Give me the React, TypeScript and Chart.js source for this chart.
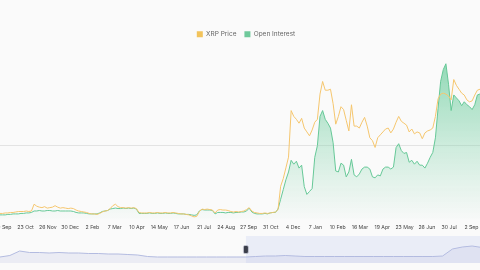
import React, { useEffect, useRef } from 'react';
import { Chart, registerables } from 'chart.js';

Chart.register(...registerables);

// Daily series sampled every 4 days starting 14 Sep 2023 (day 0)
const STEP_DAYS = 4;
const X_MAX_DAY = 732;

const xrpPrice = [
  0.60, 0.60, 0.61, 0.61, 0.62, 0.62, 0.63, 0.64, 0.64, 0.64,
  0.65, 0.64, 0.65, 0.79, 0.75, 0.73, 0.72, 0.74, 0.71, 0.72,
  0.73, 0.76, 0.73, 0.71, 0.72, 0.71, 0.70, 0.71, 0.70, 0.67,
  0.65, 0.64, 0.63, 0.62, 0.60, 0.59, 0.59, 0.58, 0.60, 0.63,
  0.65, 0.66, 0.70, 0.76, 0.79, 0.74, 0.72, 0.72, 0.71, 0.72,
  0.71, 0.72, 0.70, 0.62, 0.61, 0.61, 0.61, 0.62, 0.61, 0.61,
  0.62, 0.61, 0.61, 0.62, 0.61, 0.61, 0.62, 0.61, 0.60, 0.59,
  0.59, 0.58, 0.57, 0.55, 0.53, 0.54, 0.64, 0.69, 0.68, 0.69,
  0.68, 0.67, 0.61, 0.67, 0.68, 0.67, 0.67, 0.66, 0.64, 0.63,
  0.64, 0.63, 0.64, 0.65, 0.68, 0.72, 0.65, 0.62, 0.61, 0.60,
  0.60, 0.61, 0.60, 0.61, 0.62, 0.63, 0.68, 1.16, 1.32, 1.54,
  1.76, 2.72, 2.60, 2.54, 2.46, 2.56, 2.36, 2.28, 2.20, 2.32,
  2.48, 2.54, 3.06, 3.32, 3.14, 3.14, 3.16, 2.86, 2.44, 2.60,
  2.80, 2.74, 2.52, 2.30, 2.84, 2.40, 2.40, 2.36, 2.48, 2.58,
  2.40, 2.16, 2.10, 1.96, 2.16, 2.22, 2.28, 2.34, 2.36, 2.26,
  2.34, 2.48, 2.60, 2.50, 2.46, 2.42, 2.28, 2.34, 2.24, 2.28,
  2.26, 2.14, 2.26, 2.30, 2.32, 2.36, 2.60, 2.96, 3.06, 3.08,
  3.06, 3.02, 2.94, 3.36, 3.24, 3.16, 3.08, 3.04, 2.94, 2.90,
  2.92, 3.04, 3.14, 3.16,
];

const openInterest = [
  0.30, 0.30, 0.30, 0.33, 0.33, 0.36, 0.36, 0.36, 0.39, 0.39,
  0.42, 0.42, 0.45, 0.54, 0.54, 0.57, 0.54, 0.54, 0.57, 0.57,
  0.54, 0.54, 0.57, 0.54, 0.54, 0.54, 0.54, 0.54, 0.51, 0.45,
  0.42, 0.42, 0.42, 0.39, 0.36, 0.36, 0.36, 0.36, 0.42, 0.51,
  0.54, 0.57, 0.66, 0.69, 0.72, 0.69, 0.69, 0.72, 0.69, 0.72,
  0.69, 0.72, 0.66, 0.39, 0.39, 0.39, 0.39, 0.42, 0.39, 0.39,
  0.42, 0.39, 0.39, 0.42, 0.39, 0.39, 0.42, 0.39, 0.36, 0.36,
  0.36, 0.33, 0.33, 0.30, 0.27, 0.30, 0.54, 0.63, 0.60, 0.60,
  0.60, 0.57, 0.36, 0.45, 0.45, 0.45, 0.42, 0.45, 0.45, 0.42,
  0.45, 0.45, 0.48, 0.48, 0.54, 0.72, 0.48, 0.39, 0.36, 0.36,
  0.36, 0.39, 0.36, 0.42, 0.45, 0.45, 0.66, 1.26, 1.86, 2.46,
  2.94, 3.66, 3.42, 3.60, 3.18, 3.36, 2.04, 1.56, 1.74, 1.92,
  3.84, 4.56, 6.36, 6.72, 6.18, 5.94, 5.64, 4.74, 3.00, 2.94,
  3.48, 3.36, 2.64, 2.94, 3.72, 2.76, 2.64, 2.82, 3.12, 3.24,
  3.24, 3.12, 2.64, 2.58, 2.76, 2.70, 3.12, 3.24, 3.24, 3.12,
  3.24, 4.44, 4.68, 4.26, 4.08, 4.14, 3.54, 3.66, 3.42, 3.60,
  3.36, 3.36, 3.18, 3.48, 3.84, 4.14, 5.04, 6.84, 8.52, 9.24,
  9.60, 8.34, 6.72, 7.68, 7.50, 7.32, 7.02, 7.26, 7.08, 6.96,
  6.78, 7.08, 7.68, 7.74,
];

const tickLabels = [
  '19 Sep', '23 Oct', '26 Nov', '30 Dec', '2 Feb', '7 Mar', '10 Apr', '14 May',
  '17 Jun', '21 Jul', '24 Aug', '27 Sep', '31 Oct', '4 Dec', '7 Jan', '10 Feb',
  '16 Mar', '19 Apr', '23 May', '26 Jun', '30 Jul', '2 Sep',
];
const FIRST_TICK_DAY = 5;
const TICK_STEP_DAYS = 34;

const gridPriceLevel = 2.0;

// Overview (data-zoom) series, sampled every 15 days
const SLIDER_STEP_DAYS = 15;
const sliderValues = [
  6, 7.5, 12, 10.5, 10.5, 10, 10.5, 10, 10, 9.5,
  9.5, 9, 9, 8.5, 8, 6.5, 6, 6, 6, 6,
  6, 6, 6, 6, 6, 6, 6.5, 7, 7, 7.5,
  7, 6.5, 6.5, 6.5, 6.5, 6.5, 6.5, 6.5, 6.5, 6.5,
  6.5, 6.5, 6.5, 6.5, 6.5, 7, 14, 16, 17, 15.5,
];
const SLIDER_START_DAY = 375;

const FONT = 'Inter, "Noto Sans", sans-serif';
const PRICE_COLOR = '#f5c66e';
const OI_COLOR = '#66c897';
const LEGEND_SHIFT = 6;

function MainChart() {
  const ref = useRef<HTMLCanvasElement | null>(null);
  useEffect(() => {
    if (!ref.current) return;
    const tickDays = tickLabels.map((_, k) => FIRST_TICK_DAY + k * TICK_STEP_DAYS);
    const legendShift = {
      id: 'legendShift',
      afterLayout(chart: any) {
        if (chart.legend) {
          chart.legend.left += LEGEND_SHIFT;
          chart.legend.right += LEGEND_SHIFT;
        }
      },
    };
    const chart = new Chart(ref.current, {
      type: 'line',
      data: {
        datasets: [
          {
            label: 'XRP Price',
            data: xrpPrice.map((v, i) => ({ x: i * STEP_DAYS, y: v })),
            borderColor: PRICE_COLOR,
            backgroundColor: PRICE_COLOR,
            borderWidth: 1,
            pointRadius: 0,
            fill: false,
            yAxisID: 'yPrice',
            order: 0,
          },
          {
            label: 'Open Interest',
            data: openInterest.map((v, i) => ({ x: i * STEP_DAYS, y: v })),
            borderColor: OI_COLOR,
            backgroundColor: (ctx: any) => {
              const { chart } = ctx;
              const area = chart.chartArea;
              if (!area) return 'rgba(110,205,155,0.4)';
              const g = chart.ctx.createLinearGradient(0, area.top, 0, area.bottom);
              g.addColorStop(0, 'rgba(104,204,155,0.8)');
              g.addColorStop(0.5, 'rgba(125,210,168,0.42)');
              g.addColorStop(1, 'rgba(140,215,175,0.02)');
              return g;
            },
            borderWidth: 1,
            pointRadius: 0,
            fill: 'origin',
            yAxisID: 'yOI',
            order: 1,
          },
        ],
      },
      options: {
        responsive: false,
        animation: false,
        layout: { padding: { top: 23, left: 0, right: 0, bottom: 0 } },
        plugins: {
          tooltip: { enabled: false },
          legend: {
            position: 'top',
            labels: {
              boxWidth: 6,
              boxHeight: 6,
              padding: 8,
              color: '#666',
              font: { family: FONT, size: 6.5 },
              generateLabels: (c: any) =>
                Chart.defaults.plugins.legend.labels.generateLabels(c).map((l: any) => ({
                  ...l,
                  fillStyle: l.datasetIndex === 0 ? '#f2c35b' : '#6fc99b',
                  strokeStyle: 'rgba(0,0,0,0)',
                  lineWidth: 0,
                })),
            },
          },
        },
        scales: {
          x: {
            type: 'linear',
            min: 0,
            max: X_MAX_DAY,
            grid: { display: false, drawTicks: false },
            border: { display: false },
            afterBuildTicks: (s: any) => {
              s.ticks = tickDays.map((v) => ({ value: v }));
            },
            afterFit: (s: any) => {
              s.paddingLeft = 0;
              s.paddingRight = 0;
            },
            ticks: {
              autoSkip: false,
              maxRotation: 0,
              padding: 5,
              color: '#444',
              font: { family: FONT, size: 5.2 },
              callback: (_v: any, i: number) => tickLabels[i],
            },
          },
          yPrice: {
            type: 'linear',
            position: 'left',
            min: 0.47,
            max: 4.02,
            grid: { color: '#e3e3e3', drawTicks: false, lineWidth: 1 },
            border: { display: false },
            ticks: { display: false },
            afterBuildTicks: (s: any) => {
              s.ticks = [{ value: gridPriceLevel }];
            },
          },
          yOI: {
            type: 'linear',
            position: 'right',
            display: false,
            min: 0,
            max: 10.6,
          },
        },
      },
      plugins: [legendShift],
    } as any);
    return () => chart.destroy();
  }, []);
  return <canvas ref={ref} width={480} height={236} style={{ display: 'block' }} />;
}

function SliderChart() {
  const ref = useRef<HTMLCanvasElement | null>(null);
  useEffect(() => {
    if (!ref.current) return;
    const selectionPlugin = {
      id: 'selection',
      beforeDatasetsDraw(chart: any) {
        const { ctx, chartArea, scales } = chart;
        const x0 = scales.x.getPixelForValue(SLIDER_START_DAY);
        ctx.save();
        ctx.fillStyle = 'rgba(150,165,235,0.15)';
        ctx.fillRect(x0, chartArea.top, chartArea.right - x0, chartArea.bottom - chartArea.top);
        ctx.restore();
      },
      afterDatasetsDraw(chart: any) {
        const { ctx, chartArea, scales } = chart;
        const x0 = scales.x.getPixelForValue(SLIDER_START_DAY);
        const cy = (chartArea.top + chartArea.bottom) / 2;
        ctx.save();
        ctx.fillStyle = '#3b3e4a';
        ctx.strokeStyle = '#c9ccd8';
        ctx.lineWidth = 0.8;
        ctx.beginPath();
        (ctx as any).roundRect(x0 - 2.5, cy - 4, 5, 8, 1.5);
        ctx.fill();
        ctx.stroke();
        ctx.restore();
      },
    };
    const chart = new Chart(ref.current, {
      type: 'line',
      data: {
        datasets: [
          {
            data: sliderValues.map((v, i) => ({ x: i * SLIDER_STEP_DAYS, y: v })),
            borderColor: '#b3bbe0',
            backgroundColor: 'rgba(180,188,224,0.22)',
            borderWidth: 1,
            pointRadius: 0,
            fill: 'origin',
          },
        ],
      },
      options: {
        responsive: false,
        animation: false,
        layout: { padding: 0 },
        plugins: { legend: { display: false }, tooltip: { enabled: false } },
        scales: {
          x: { type: 'linear', display: false, min: 0, max: X_MAX_DAY },
          y: { display: false, min: 0, max: 27 },
        },
      },
      plugins: [selectionPlugin],
    } as any);
    return () => chart.destroy();
  }, []);
  return <canvas ref={ref} width={480} height={27} style={{ display: 'block' }} />;
}

export default function App() {
  return (
    <div
      style={{
        position: 'fixed',
        left: 0,
        top: 0,
        width: 480,
        height: 270,
        background: '#fafafa',
        overflow: 'hidden',
      }}
    >
      <MainChart />
      <SliderChart />
    </div>
  );
}
